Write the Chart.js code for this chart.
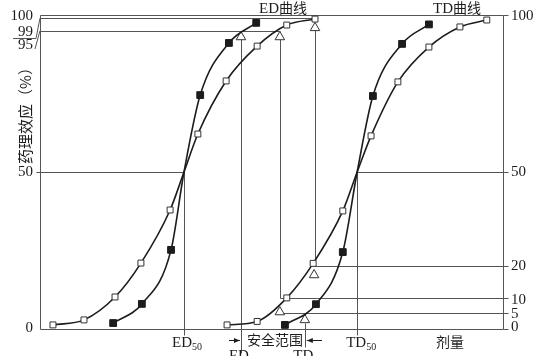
<!DOCTYPE html>
<html><head><meta charset="utf-8">
<script src="https://cdn.jsdelivr.net/npm/chart.js@4/dist/chart.umd.min.js"></script>
<style>html,body{margin:0;padding:0;background:#fff;}canvas{display:block;}</style>
</head><body>
<canvas id="c" width="534" height="356"></canvas>
<script>
// ---- data (dose in arbitrary units 0-100, effect in %) ----
const doseEDFilled = [15.8, 22.0, 28.3, 31.1, 34.6, 40.8, 46.7];
const effEDFilled  = [1.9, 8.0, 25.2, 50, 74.5, 91.1, 97.5];
const doseEDOpen   = [2.8, 9.5, 16.2, 21.8, 28.1, 31.1, 34.1, 40.2, 46.9, 53.3, 59.4];
const effEDOpen    = [1.3, 2.9, 10.2, 21.0, 37.9, 50, 62.1, 79.0, 90.1, 96.8, 98.7];
const doseTDFilled = [52.9, 59.6, 65.4, 68.5, 71.9, 78.2, 84.0];
const effTDFilled  = [1.3, 7.9, 24.5, 50, 74.2, 90.8, 97.0];
const doseTDOpen   = [40.4, 46.9, 53.3, 59.0, 65.4, 68.5, 71.5, 77.3, 84.0, 90.7, 96.5];
const effTDOpen    = [1.3, 2.4, 9.9, 20.9, 37.6, 50, 61.5, 78.7, 89.8, 96.2, 98.4];
const doseTriangle = [43.4, 51.8, 59.4, 51.8, 57.2, 59.2];
const effTriangle  = [93.0, 93.0, 95.9, 5.4, 2.9, 17.2];

const ED50 = 31.1, TD50 = 68.5, ED95 = 43.4, TD5 = 57.2;
// reference lines
const vLineDose   = [ED50, TD50, ED95, 51.8, 59.4, TD5];
const vLineTop    = [50, 50, 93, 93, 96, 2];
const vLineBottom = [0, 0, 0, 10, 20, 0];
const hLineEff    = [99, 95, 50, 50, 20, 10, 5];
const hLineFrom   = [0, 0, 0, TD50, 59.4, 51.8, 51.8];
const hLineTo     = [59.4, 51.8, ED50, 100, 100, 100, 100];
const leftTicks   = [100, 99, 95, 50, 0];
const rightTicks  = [100, 50, 20, 10, 5, 0];

const ink = '#1c1c1c';
const gridC = '#555';
const serif = '"Liberation Serif","DejaVu Serif",serif';
const cjk = '"Noto Sans CJK SC",sans-serif';

function pts(xs, ys){ return xs.map((x,i)=>({x:x, y:ys[i]})); }
function radii(ys, r){ return ys.map(v => v === 50 ? 0 : r); }

const decor = {
  id: 'decor',
  beforeDatasetsDraw(chart){
    const ctx = chart.ctx, x = chart.scales.x, y = chart.scales.y;
    const X = v => x.getPixelForValue(v), Y = v => y.getPixelForValue(v);
    const p = v => Math.round(v) + 0.5;
    ctx.save();
    ctx.strokeStyle = gridC; ctx.lineWidth = 1;
    const seg = (x1,y1,x2,y2) => { ctx.beginPath(); ctx.moveTo(x1,y1); ctx.lineTo(x2,y2); ctx.stroke(); };
    // frame
    seg(p(X(0)), p(Y(100)), p(X(0)), p(Y(0)));
    seg(p(X(0)), p(Y(0)), p(X(100)), p(Y(0)));
    seg(p(X(100)), p(Y(100)), p(X(100)), p(Y(0)));
    seg(p(X(0)), p(Y(100)), p(X(100)), p(Y(100)));
    // right ticks
    rightTicks.forEach(t => seg(p(X(100)), p(Y(t)), p(X(100))+5, p(Y(t))));
    seg(p(X(0))-4, p(Y(50)), p(X(0)), p(Y(50)));
    // horizontal refs
    hLineEff.forEach((e,i) => seg(p(X(hLineFrom[i])), p(Y(e)), p(X(hLineTo[i])), p(Y(e))));
    // vertical refs
    vLineDose.forEach((d,i) => {
      let yb = Y(vLineBottom[i]);
      if (vLineBottom[i] === 0) {
        if (d === ED95) yb += 24; else if (d === TD5) yb += 18; else yb += 6;
      }
      seg(p(X(d)), p(Y(vLineTop[i])), p(X(d)), p(yb));
    });
    // leaders for 99 / 95
    seg(X(0), Y(99), 36, 38.5);
    seg(36, 38.5, 13, 38.5);
    seg(X(0), Y(95), 35, 49);
    ctx.restore();
  },
  afterDatasetsDraw(chart){
    const ctx = chart.ctx, x = chart.scales.x, y = chart.scales.y;
    const X = v => x.getPixelForValue(v), Y = v => y.getPixelForValue(v);
    ctx.save();
    ctx.fillStyle = ink;
    ctx.textBaseline = 'middle';
    ctx.font = '15px ' + serif;
    // left labels
    ctx.textAlign = 'right';
    ctx.fillText('100', 33, Y(100) + 1);
    ctx.fillText('99', 33, Y(99) + 14);
    ctx.fillText('95', 33, Y(95) + 14);
    ctx.fillText('50', 33, Y(50));
    ctx.fillText('0', 33, Y(0) - 1);
    // right labels
    ctx.textAlign = 'left';
    const rx = X(100) + 8;
    ctx.fillText('100', rx, Y(100) + 1);
    ctx.fillText('50', rx, Y(50));
    ctx.fillText('20', rx, Y(20));
    ctx.fillText('10', rx, Y(10) + 2);
    ctx.fillText('5', rx, Y(5) + 1);
    ctx.fillText('0', rx, Y(0) - 2);
    // subscript labels
    const sub = (main, s, cx, cy) => {
      ctx.font = '15px ' + serif;
      const w1 = ctx.measureText(main).width;
      ctx.font = '10px ' + serif;
      const w2 = ctx.measureText(s).width;
      const x0 = cx - (w1 + w2) / 2;
      ctx.textAlign = 'left';
      ctx.font = '15px ' + serif;
      ctx.fillText(main, x0, cy);
      ctx.font = '10px ' + serif;
      ctx.fillText(s, x0 + w1, cy + 4);
    };
    sub('ED', '50', X(ED50) + 3, 343);
    sub('TD', '50', X(TD50) + 4, 343);
    sub('ED', '95', X(ED95) + 3, 356);
    sub('TD', '5', X(TD5) + 1, 356);
    // chinese labels
    ctx.textAlign = 'center';
    ctx.font = '14px ' + cjk;
    ctx.fillText('安全范围', 275, 340);
    ctx.fillText('剂量', 450, 342);
    ctx.font = '14px ' + serif;
    const curveLbl = (t, cx) => {
      ctx.font = '15px ' + serif;
      const w1 = ctx.measureText(t).width;
      ctx.font = '14px ' + cjk;
      const w2 = ctx.measureText('曲线').width;
      const x0 = cx - (w1 + w2) / 2;
      ctx.textAlign = 'left';
      ctx.font = '15px ' + serif;
      ctx.fillText(t, x0, 9);
      ctx.font = '14px ' + cjk;
      ctx.fillText('曲线', x0 + w1, 8);
    };
    curveLbl('ED', 283);
    curveLbl('TD', 457);
    // arrows for safety range
    ctx.strokeStyle = ink; ctx.lineWidth = 1;
    const arrow = (x1, x2, yy) => {
      ctx.beginPath(); ctx.moveTo(x1, yy); ctx.lineTo(x2, yy); ctx.stroke();
      const d = x2 > x1 ? 1 : -1;
      ctx.beginPath(); ctx.moveTo(x2, yy); ctx.lineTo(x2 - d*6, yy - 2.5); ctx.lineTo(x2 - d*6, yy + 2.5); ctx.closePath(); ctx.fill();
    };
    arrow(229, X(ED95) - 1, 340.5);
    arrow(322, X(TD5) + 2, 340.5);
    // y title
    ctx.save();
    ctx.translate(25, 112);
    ctx.rotate(-Math.PI / 2);
    ctx.textAlign = 'center';
    ctx.font = '15px ' + cjk;
    ctx.fillText('药理效应（%）', 0, 0);
    ctx.restore();
    ctx.restore();
  }
};

const lineDs = (xs, ys, filled) => ({
  data: pts(xs, ys),
  showLine: true,
  borderColor: ink,
  borderWidth: 1.6,
  cubicInterpolationMode: 'monotone',
  pointStyle: 'rect',
  pointRadius: radii(ys, filled ? 4.8 : 4.2),
  pointBackgroundColor: filled ? ink : '#fff',
  pointBorderColor: filled ? ink : '#333',
  pointBorderWidth: 1,
  fill: false,
  clip: false
});

new Chart(document.getElementById('c'), {
  type: 'line',
  data: {
    datasets: [
      lineDs(doseEDFilled, effEDFilled, true),
      lineDs(doseEDOpen, effEDOpen, false),
      lineDs(doseTDFilled, effTDFilled, true),
      lineDs(doseTDOpen, effTDOpen, false),
      {
        data: pts(doseTriangle, effTriangle),
        showLine: false,
        pointStyle: 'triangle',
        pointRadius: 5.5,
        pointBackgroundColor: '#fff',
        pointBorderColor: '#333',
        pointBorderWidth: 1,
        clip: false
      }
    ]
  },
  options: {
    responsive: false,
    animation: false,
    devicePixelRatio: 1,
    layout: { padding: { left: 40, right: 31, top: 15, bottom: 27 } },
    plugins: { legend: { display: false }, tooltip: { enabled: false } },
    scales: {
      x: { type: 'linear', min: 0, max: 100, display: false },
      y: { type: 'linear', min: 0, max: 100, display: false }
    }
  },
  plugins: [decor]
});
</script>
</body></html>
